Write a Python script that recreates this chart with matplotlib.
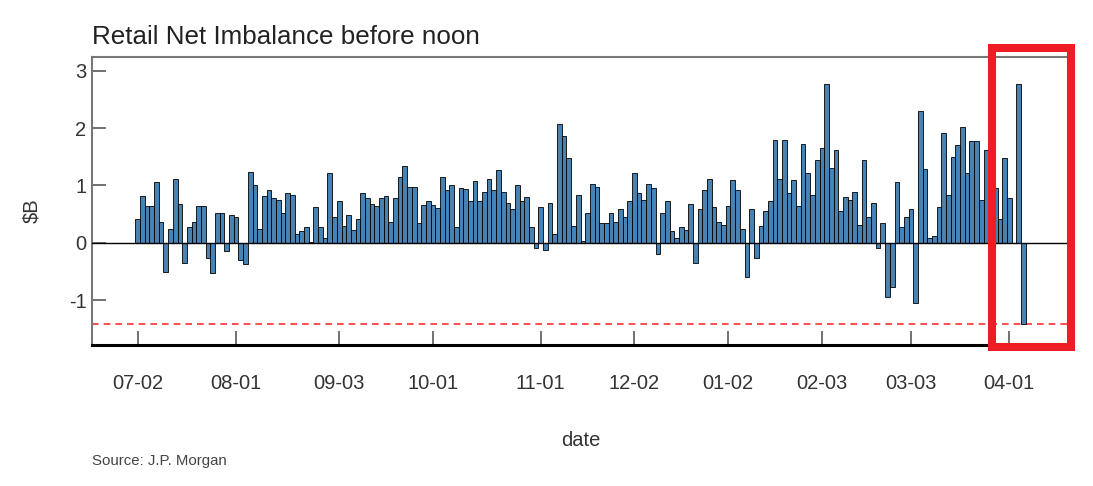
import numpy as np
import pandas as pd
import matplotlib
matplotlib.use("Agg")
import matplotlib.pyplot as plt
from matplotlib.patches import Rectangle

plt.rcParams['font.family'] = ['Liberation Sans', 'DejaVu Sans']

# trading days (NYSE closures plus one missing day in the source data)
closed = ['2024-07-04', '2024-09-02', '2024-11-28', '2024-12-24', '2024-12-25',
          '2025-01-01', '2025-01-09', '2025-01-20', '2025-02-17']
dates = pd.bdate_range('2024-07-02', '2025-04-04')
dates = dates[~dates.isin(pd.to_datetime(closed))]

# retail net imbalance before noon, $B
imbalance = [
    0.42, 0.81, 0.64, 0.64, 1.06, 0.36, -0.51, 0.24, 1.12, 0.67, -0.35, 0.28,
    0.36, 0.64, 0.64, -0.27, -0.53, 0.52, 0.52, -0.15, 0.48, 0.45, -0.31,
    -0.37, 1.23, 1.00, 0.24,
    0.81, 0.92, 0.78, 0.74, 0.52, 0.86, 0.84, 0.16, 0.20, 0.28, 0.02, 0.62,
    0.27, 0.08, 1.22, 0.44, 0.72, 0.30, 0.48, 0.22, 0.41, 0.86, 0.78, 0.67,
    0.64, 0.78, 0.81, 0.36, 0.78, 1.14, 1.34, 0.98, 0.98, 0.34,
    0.66, 0.72, 0.65, 0.60, 1.14, 0.92, 1.00, 0.28, 0.95, 0.93, 0.73, 1.08,
    0.73, 0.88, 1.12, 0.92, 1.26, 0.88, 0.69, 0.59, 1.00, 0.73, 0.79, 0.27,
    -0.09, 0.62, -0.12, 0.70, 0.16, 2.07, 1.87, 1.48, 0.30, 0.84,
    0.03, 0.52, 1.03, 0.98, 0.34, 0.34, 0.52, 0.36, 0.58, 0.44, 0.72, 1.22,
    0.86, 0.74, 1.03, 0.95, -0.19, 0.52, 0.72, 0.20, 0.08, 0.28, 0.22, 0.67,
    -0.35, 0.58, 0.92, 1.12, 0.62, 0.36, 0.31, 0.64, 1.09, 0.92,
    0.24, -0.59, 0.58, -0.26, 0.30, 0.56, 0.72, 1.79, 1.12, 1.79, 0.86, 1.09,
    0.64, 1.73, 1.22, 0.84, 1.45, 1.65, 2.77, 1.31, 1.62, 0.56, 0.80, 0.74,
    0.88, 0.31, 1.45, 0.44, 0.70, -0.10, 0.34, -0.94, -0.77, 1.06,
    0.28, 0.45, 0.58, -1.05, 2.29, 1.29, 0.08, 0.12, 0.62, 1.91, 0.84, 1.49,
    1.70, 2.01, 1.22, 1.77, 1.77, 0.74, 1.62, 1.35, 0.95,
    0.42, 1.48, 0.78, 0.00, 2.77, -1.41,
]

yticks = [-1, 0, 1, 2, 3]

fig = plt.figure(figsize=(10.93, 4.86), dpi=100)
ax = fig.add_axes([92 / 1093, 1 - 345.3 / 486, 978 / 1093, 288.3 / 486])

x = np.arange(len(imbalance))
ax.bar(x, imbalance, width=1.0, color='#4682B4', edgecolor='black',
       linewidth=0.6, zorder=2)
ax.axhline(0, color='black', linewidth=1.0, zorder=3)
ax.axhline(imbalance[-1], color='#ff3030', linewidth=1.2,
           linestyle=(0, (4, 3)), zorder=1)

ax.set_xlim(-9.75, 198.95)
ax.set_ylim(-1.79, 3.24)

# first trading day of each month
months = pd.Series(dates).dt.to_period('M')
first = np.flatnonzero(months.ne(months.shift()).to_numpy())
ax.set_xticks(first)
ax.set_xticklabels([dates[i].strftime('%m-%d') for i in first])
ax.set_yticks(yticks)
ax.set_yticklabels([str(v) for v in yticks])

ax.tick_params(axis='x', direction='in', length=10, width=1.3, color='#666666',
               pad=21, labelsize=14.5, labelcolor='#333333')
ax.tick_params(axis='y', direction='in', length=10, width=1.3, color='#666666',
               pad=4, labelsize=14.5, labelcolor='#333333')

for side in ['top', 'right', 'left']:
    ax.spines[side].set_color('#777777')
    ax.spines[side].set_linewidth(1.5)
ax.spines['bottom'].set_color('black')
ax.spines['bottom'].set_linewidth(2.2)

fig.text(92 / 1093, 1 - 44.3 / 486, 'Retail Net Imbalance before noon',
         fontsize=18.7, color='#222222', va='baseline', ha='left')
fig.text(581 / 1093, 1 - 446 / 486, 'date', fontsize=14.5, color='#333333',
         ha='center', va='baseline')
fig.text(32 / 1093, 1 - 211 / 486, '$B', fontsize=14.5, color='#333333',
         rotation=90, ha='center', va='center')
fig.text(92 / 1093, 1 - 461 / 486, 'Source: J.P. Morgan', fontsize=10.8,
         color='#444444', ha='left', va='center')

# red highlight box around the last days
fig.patches.append(Rectangle((992 / 1093, 1 - 346.5 / 486), 79 / 1093,
                             298.5 / 486, transform=fig.transFigure,
                             fill=False, edgecolor='#ee1c24', linewidth=5.8,
                             zorder=10))

fig.savefig('out.png', dpi=100)
